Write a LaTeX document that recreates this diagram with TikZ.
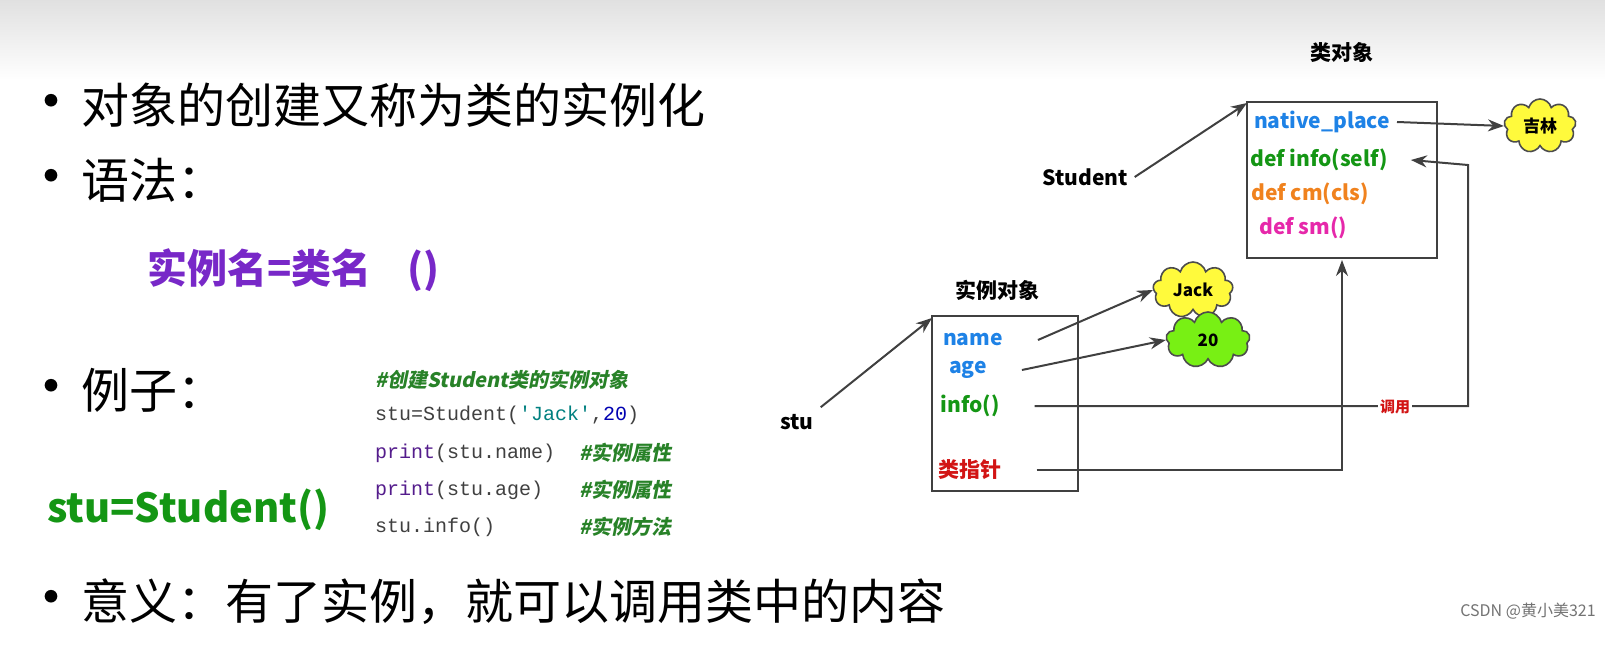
\documentclass[tikz,border=0pt]{standalone}
\usepackage{fontspec}
\setmainfont{Noto Sans CJK SC}
\newfontfamily\cmtfont[FakeSlant=0.2]{Noto Sans CJK SC}
\newfontfamily\code{Liberation Mono}
\usetikzlibrary{shapes.symbols,arrows.meta}
\definecolor{lblue}{RGB}{30,130,230}
\definecolor{lgreen}{RGB}{20,150,20}
\definecolor{lorange}{RGB}{240,130,30}
\definecolor{lpink}{RGB}{230,40,170}
\definecolor{lred}{RGB}{210,20,20}
\definecolor{purp}{RGB}{120,40,200}
\definecolor{cgreen}{RGB}{40,130,40}
\definecolor{cyel}{RGB}{255,250,60}
\definecolor{cgr}{RGB}{120,240,20}
\tikzset{
 big/.style={anchor=west,font=\fontsize{24}{28}\selectfont},
 lab/.style={font=\fontsize{10.5}{12}\selectfont\bfseries},
 codel/.style={anchor=west,font=\code\fontsize{10}{12}\selectfont,text=black!75},
 cmt/.style={anchor=west,font=\cmtfont\fontsize{10}{12}\selectfont\bfseries,text=cgreen},
 box/.style={draw=black!75,line width=1.2pt},
 arr/.style={draw=black!75,line width=1pt,-{Stealth[length=8pt,width=6pt]}},
 cl/.style={cloud,cloud puffs=9,draw=black!70,line width=0.8pt,aspect=1.3,inner sep=0pt,font=\fontsize{8.5}{10}\selectfont\bfseries},
}
\newcommand{\bul}{{\fontsize{30}{30}\selectfont•}}
\begin{document}
\begin{tikzpicture}[x=0.5pt,y=-0.5pt]
\useasboundingbox (0,0) rectangle (1605,646);
\fill[white] (0,0) rectangle (1605,646);
\shade[top color=black!12,bottom color=white] (0,0) rectangle (1605,80);
% left text
\node[big] (b1) at (14,105) {\bul 对象的创建又称为类的实例化};
\node[big] (b2) at (14,180) {\bul 语法：};
\node[big] (b3) at (14,390) {\bul 例子：};
\node[big] (b4) at (14,602) {\bul 意义：有了实例，就可以调用类中的内容};
\node[anchor=west,font=\fontsize{20}{24}\selectfont\bfseries,text=purp] (syn) at (140,270) {实例名=类名\hspace{18pt}()};
\node[anchor=west,font=\fontsize{20}{24}\selectfont\bfseries,text=lgreen] (ex) at (40,510) {stu=Student()};
% code
\node[cmt] (c1) at (368,380) {\#创建Student类的实例对象};
\node[codel] (c2) at (368,415) {stu=Student(\textcolor{teal}{'Jack'},\textcolor{blue!70!black}{20})};
\node[codel] (c3) at (368,453) {\textcolor{purp!70!black}{print}(stu.name)};
\node[cmt] (c3b) at (572,453) {\#实例属性};
\node[codel] (c4) at (368,490) {\textcolor{purp!70!black}{print}(stu.age)};
\node[cmt] (c4b) at (572,490) {\#实例属性};
\node[codel] (c5) at (368,527) {stu.info()};
\node[cmt] (c5b) at (572,527) {\#实例方法};
\node[font=\fontsize{8}{10}\selectfont,text=black!55] (wm) at (1528,611) {CSDN @黄小美321};
% class object
\node[lab] (clt) at (1342,52) {类对象};
\draw[box] (1247,102) rectangle (1437,258);
\coordinate (ctl) at (1247,103);
\coordinate (cbot) at (1342,260);
\node[lab,text=lblue] (np) at (1322,122) {native\_place};
\node[lab,text=lgreen] (di) at (1319,160) {def info(self)};
\node[lab,text=lorange] (dc) at (1310,194) {def cm(cls)};
\node[lab,text=lpink] (ds) at (1303,228) {def sm()};
\node[cl,fill=cyel,minimum width=36pt,minimum height=27pt] (jl) at (1540,126) {吉林};
\node[lab] (st) at (1085,177) {Student};
\draw[arr] (st.east) -- (ctl);
\draw[arr] (np.east) -- (jl.west);
% instance
\node[lab] (it) at (997,290) {实例对象};
\draw[box] (932,316) rectangle (1078,491);
\coordinate (itl) at (932,318);
\node[lab,text=lblue] (nm) at (973,340) {name};
\node[lab,text=lblue] (ag) at (968,370) {age};
\node[lab,text=lgreen] (inf) at (970,406) {info()};
\node[lab,text=lred] (ptr) at (970,470) {类指针};
\node[cl,fill=cyel,minimum width=40pt,minimum height=26pt] (jk) at (1193,290) {Jack};
\node[cl,fill=cgr,minimum width=42pt,minimum height=28pt] (tw) at (1208,340) {20};
\node[lab] (stu) at (797,422) {stu};
\draw[arr] (stu.north east) -- (itl);
\draw[arr] ([xshift=14]nm.east) -- (jk.west);
\draw[arr] ([xshift=14]ag.east) -- (tw.west);
\coordinate (k1) at (1468,406);
\coordinate (k2) at (1468,165);
\draw[arr] ([xshift=14]inf.east) -- (k1) -- (k2) -- ([xshift=8]di.east);
\node[fill=white,inner sep=1pt,font=\fontsize{7.5}{9}\selectfont\bfseries,text=lred] (dy) at (1395,407) {调用};
\coordinate (k3) at (1342,470);
\draw[arr] ([xshift=14]ptr.east) -- (k3) -- (cbot);
\end{tikzpicture}
\end{document}
